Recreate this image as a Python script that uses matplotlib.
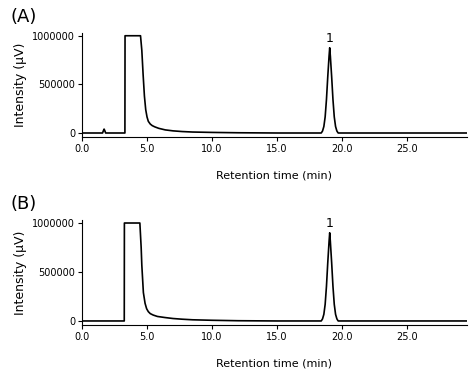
import numpy as np
import matplotlib.pyplot as plt

# chromatogram A: retention time (min) vs intensity (uV)
time_a = [0.0, 1.58, 1.65, 1.7, 1.75, 1.82, 3.3, 3.31, 4.5, 4.6, 4.7, 4.8, 4.9, 5.0,
          5.1, 5.25, 5.4, 5.6, 5.9, 6.4, 7.0, 7.7, 8.5, 10.0, 12.0, 15.0, 18.4, 18.5,
          18.6, 18.7, 18.8, 18.9, 19.0, 19.05, 19.1, 19.2, 19.3, 19.4, 19.5, 19.6,
          19.7, 29.6]
intensity_a = [0, 0, 25000, 40000, 25000, 0, 0, 1000000, 1000000, 850000, 600000,
               380000, 240000, 165000, 120000, 92000, 76000, 63000, 48000, 32000,
               22000, 15000, 10000, 6000, 2500, 0, 0, 21000, 67000, 166000, 344000,
               578000, 790000, 876000, 790000, 578000, 344000, 166000, 67000, 21000,
               0, 0]

# chromatogram B
time_b = [0.0, 3.25, 3.26, 4.45, 4.55, 4.6, 4.72, 4.85, 4.97, 5.1, 5.25, 5.48, 5.8,
          6.38, 7.0, 7.7, 8.5, 10.0, 12.0, 15.0, 18.4, 18.5, 18.6, 18.7, 18.8, 18.9,
          19.0, 19.05, 19.1, 19.2, 19.3, 19.4, 19.5, 19.6, 19.7, 29.6]
intensity_b = [0, 0, 1000000, 1000000, 750000, 570000, 290000, 180000, 125000,
               95000, 75000, 60000, 46000, 35000, 25000, 18000, 12000, 7000, 2500, 0,
               0, 22000, 68000, 170000, 353000, 594000, 810000, 900000, 810000,
               594000, 353000, 170000, 68000, 22000, 0, 0]

peak_time = 19.05
x_ticks = [0, 5, 10, 15, 20, 25]
y_ticks = [0, 500000, 1000000]

fig = plt.figure(figsize=(4.74, 3.73), dpi=100)
ax_a = fig.add_axes([0.173, 0.633, 0.812, 0.279])
ax_b = fig.add_axes([0.173, 0.129, 0.812, 0.281])

panels = [(ax_a, time_a, intensity_a, "(A)", 0.876e6),
          (ax_b, time_b, intensity_b, "(B)", 0.90e6)]

for ax, t, y, tag, top in panels:
    ax.plot(t, y, color="black", lw=1.2)
    ax.set_xlim(0, 29.6)
    ax.set_ylim(-40000, 1030000)
    ax.spines["top"].set_visible(False)
    ax.spines["right"].set_visible(False)
    ax.set_xticks(x_ticks)
    ax.set_xticklabels([f"{v:.1f}" for v in x_ticks])
    ax.set_yticks(y_ticks)
    ax.set_yticklabels([str(v) for v in y_ticks])
    ax.tick_params(labelsize=7, length=3, width=0.8, pad=2)
    ax.set_xlabel("Retention time (min)", fontsize=8, labelpad=12)
    ax.set_ylabel("Intensity (\u03bcV)", fontsize=9, labelpad=4)
    ax.text(peak_time, top + 30000, "1", ha="center", va="bottom", fontsize=9)
    ax.text(-0.187, 1.24, tag, transform=ax.transAxes, fontsize=13, va="top")

fig.savefig("out.png", dpi=100)
